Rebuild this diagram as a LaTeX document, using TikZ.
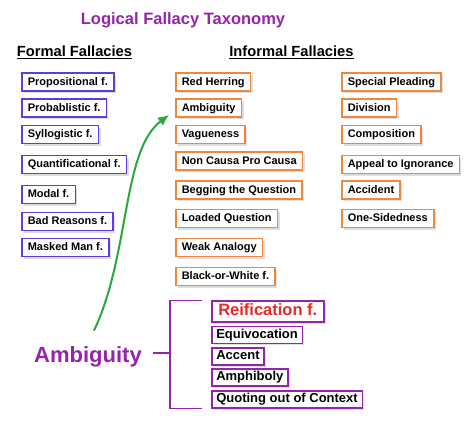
\documentclass[tikz,border=0pt]{standalone}
\usepackage{fontspec}
\setmainfont{Liberation Sans}
\usepackage{tikz}
\usetikzlibrary{arrows.meta,positioning,calc}
\definecolor{taxPurple}{RGB}{150,35,172}
\definecolor{taxViolet}{RGB}{98,58,222}
\definecolor{taxOrange}{RGB}{237,137,62}
\definecolor{taxGreen}{RGB}{40,168,62}
\definecolor{taxRed}{RGB}{232,40,40}
\definecolor{taxShadow}{RGB}{222,222,222}

\tikzset{
  fbox/.style={rectangle,line width=1.5pt,fill=white,anchor=west,inner xsep=6pt,inner ysep=3.5pt,
    text height=8.5pt,text depth=2.5pt,font=\fontsize{11}{13}\selectfont\bfseries,
    preaction={fill=taxShadow,transform canvas={xshift=2pt,yshift=-2pt}}},
  formalbox/.style={fbox,draw=taxViolet},
  informalbox/.style={fbox,draw=taxOrange},
  ambbox/.style={fbox,draw=taxPurple,inner xsep=4.5pt,inner ysep=2.2pt,
    text height=9.5pt,text depth=3pt,font=\fontsize{13}{15}\selectfont\bfseries},
  bracket/.style={draw=taxPurple,line width=1.5pt},
}

\begin{document}
\begin{tikzpicture}[x=1pt,y=-1pt]
  \useasboundingbox (0,0) rectangle (474,424);
  \node[text=taxPurple,font=\fontsize{16.5}{19}\selectfont\bfseries] (title) at (183,20) {Logical Fallacy Taxonomy};
  \node[font=\fontsize{14.7}{17}\selectfont\bfseries] (formal) at (74.5,52) {\underline{Formal Fallacies}};
  \node[font=\fontsize{14.7}{17}\selectfont\bfseries] (informal) at (291.5,52) {\underline{Informal Fallacies}};

  % formal fallacies
  \node[formalbox] (prop) at (21,82) {Propositional f.};
  \node[formalbox] (prob) at (21,108) {Probablistic f.};
  \node[formalbox] (syll) at (21,134.5) {Syllogistic f.};
  \node[formalbox] (quant) at (21,164.5) {Quantificational f.};
  \node[formalbox] (modal) at (21,194.5) {Modal f.};
  \node[formalbox] (badr) at (21,221.5) {Bad Reasons f.};
  \node[formalbox] (mask) at (21,247.5) {Masked Man f.};

  % informal fallacies, first column
  \node[informalbox] (herring) at (175,82) {Red Herring};
  \node[informalbox] (ambig) at (175,108) {Ambiguity};
  \node[informalbox] (vague) at (175,134.5) {Vagueness};
  \node[informalbox] (noncausa) at (175,161) {Non Causa Pro Causa};
  \node[informalbox] (begging) at (175,190) {Begging the Question};
  \node[informalbox] (loaded) at (175,218.5) {Loaded Question};
  \node[informalbox] (weak) at (175,247.5) {Weak Analogy};
  \node[informalbox] (blackwhite) at (175,276.5) {Black-or-White f.};

  % informal fallacies, second column
  \node[informalbox] (special) at (341,82) {Special Pleading};
  \node[informalbox] (division) at (341,108) {Division};
  \node[informalbox] (compo) at (341,134.5) {Composition};
  \node[informalbox] (ignor) at (341,164.5) {Appeal to Ignorance};
  \node[informalbox] (accid) at (341,190) {Accident};
  \node[informalbox] (onesided) at (341,218.5) {One-Sidedness};

  % kinds of ambiguity
  \node[text=taxPurple,inner sep=0pt,font=\fontsize{22}{26}\selectfont\bfseries] (bigamb) at (88,357) {Ambiguity};
  \node[ambbox,text=taxRed,inner xsep=6.5pt,inner ysep=2.6pt,text height=12pt,text depth=3.8pt,
    font=\fontsize{16.5}{19}\selectfont\bfseries] (reif) at (211,311.5) {Reification f.};
  \node[ambbox] (equiv) at (211,335) {Equivocation};
  \node[ambbox] (accent) at (211,356.5) {Accent};
  \node[ambbox] (amphi) at (211,377.5) {Amphiboly};
  \node[ambbox] (quot) at (211,399.5) {Quoting out of Context};

  \coordinate (brk) at (170,353);
  \draw[bracket] ([xshift=-9pt]reif.north west) -| (brk) |- ([xshift=-9pt]quot.south west);
  \draw[bracket] ([xshift=11pt]bigamb.east |- brk) -- (brk);

  \draw[taxGreen,line width=2pt,-{Latex[length=11pt,width=10pt]}]
    ([xshift=6pt,yshift=16pt]bigamb.north) .. controls (130,255) and (122,150) .. ([xshift=-6pt,yshift=-7pt]ambig.west);
\end{tikzpicture}
\end{document}
